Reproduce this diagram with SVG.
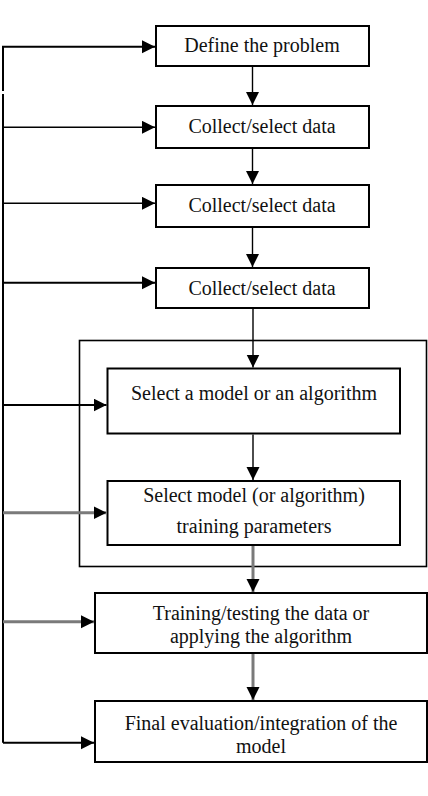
<svg xmlns="http://www.w3.org/2000/svg" width="428" height="796" viewBox="0 0 428 796">
<style>
.box{fill:#fff;stroke:#000;stroke-width:2}
.lbl{font-family:"Liberation Serif","Times New Roman",serif;font-size:20px;fill:#111;text-anchor:middle}
.ln{fill:none;stroke:#000}
.gr{fill:none;stroke:#7a7a7a;stroke-width:3}
</style>
<defs>
<marker id="ah" markerUnits="userSpaceOnUse" markerWidth="14" markerHeight="14" refX="13" refY="6.5" orient="auto">
<path d="M0,0 L13,6.5 L0,13 Z" fill="#000"/>
</marker>
</defs>
<rect id="container" x="79.5" y="340.5" width="347" height="226" fill="none" stroke="#000" stroke-width="1.6"/>
<g id="n1"><rect class="box" x="156" y="26" width="213" height="40"/><text class="lbl" x="262" y="52">Define the problem</text></g>
<g id="n2"><rect class="box" x="156" y="106" width="213" height="42"/><text class="lbl" x="262" y="133">Collect/select data</text></g>
<g id="n3"><rect class="box" x="156" y="185" width="213" height="42"/><text class="lbl" x="262" y="212">Collect/select data</text></g>
<g id="n4"><rect class="box" x="156" y="268" width="213" height="40"/><text class="lbl" x="262" y="295">Collect/select data</text></g>
<g id="n5"><rect class="box" x="107.5" y="368.5" width="292.5" height="65"/><text class="lbl" x="254" y="400">Select a model or an algorithm</text></g>
<g id="n6"><rect class="box" x="107.5" y="481" width="292.5" height="64"/><text class="lbl" x="254" y="502">Select model (or algorithm)</text><text class="lbl" x="254" y="533">training parameters</text></g>
<g id="n7"><rect class="box" x="95" y="593" width="332" height="60"/><text class="lbl" x="261" y="620">Training/testing  the data or</text><text class="lbl" x="261" y="643">applying the algorithm</text></g>
<g id="n8"><rect class="box" x="95" y="701" width="332" height="61"/><text class="lbl" x="261" y="730">Final evaluation/integration  of the</text><text class="lbl" x="261" y="753">model</text></g>
<g id="connectors">
<path class="ln" stroke-width="2" d="M3,91 V46.7 H155" marker-end="url(#ah)"/>
<path class="ln" stroke="#2a2a2a" stroke-width="2" d="M3,94 V742.7"/>
<path class="ln" stroke-width="1.4" d="M3,127.3 H155" marker-end="url(#ah)"/>
<path class="ln" stroke-width="1.4" d="M3,203.3 H155" marker-end="url(#ah)"/>
<path class="ln" stroke-width="2" d="M3,282.7 H155" marker-end="url(#ah)"/>
<path class="ln" stroke-width="2" d="M3,405 H106.5" marker-end="url(#ah)"/>
<path class="gr" d="M3,512.7 H106.5" marker-end="url(#ah)"/>
<path class="gr" d="M3,621.7 H94" marker-end="url(#ah)"/>
<path class="ln" stroke-width="2" d="M3,742.7 H94" marker-end="url(#ah)"/>
<path class="ln" stroke-width="1.4" d="M252.5,67 V105" marker-end="url(#ah)"/>
<path class="ln" stroke-width="1.4" d="M252.5,149 V184" marker-end="url(#ah)"/>
<path class="ln" stroke-width="1.4" d="M252.5,228 V267" marker-end="url(#ah)"/>
<path class="ln" stroke-width="1.4" d="M253,309 V367.5" marker-end="url(#ah)"/>
<path class="ln" stroke-width="1.4" d="M253,434.5 V480" marker-end="url(#ah)"/>
<path class="gr" d="M253,546 V592" marker-end="url(#ah)"/>
<path class="gr" d="M253,654 V700" marker-end="url(#ah)"/>
</g>
</svg>
